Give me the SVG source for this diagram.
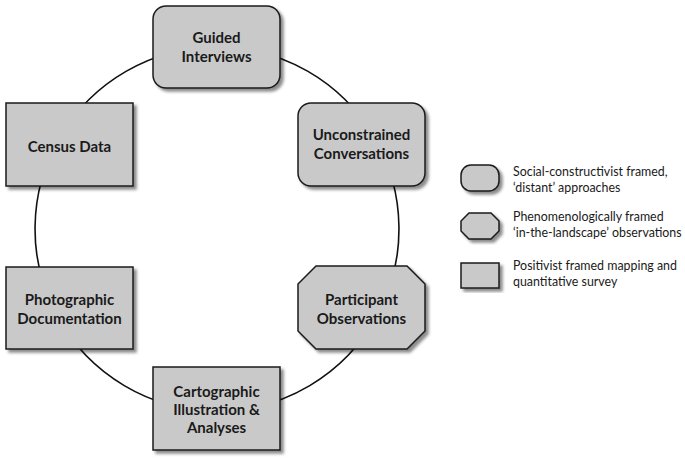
<svg xmlns="http://www.w3.org/2000/svg" width="685" height="458" viewBox="0 0 685 458">
  <defs>
    <filter id="shadow" x="-20%" y="-20%" width="140%" height="140%">
      <feDropShadow dx="3" dy="3" stdDeviation="1.8" flood-color="#000" flood-opacity="0.45"/>
    </filter>
  </defs>
  <style>
    .shape { fill: #c9c9c9; stroke: #1a1a1a; stroke-width: 1.5; filter: url(#shadow); }
    .label { font-family: Lato, "Liberation Sans", sans-serif; font-weight: bold; font-size: 15px; fill: #1a1a1a; text-anchor: middle; }
    .legend { font-family: Lato, "Liberation Sans", sans-serif; font-size: 12.4px; fill: #1a1a1a; }
    .conn { fill: none; stroke: #111; stroke-width: 1.6; }
  </style>
  <rect width="685" height="458" fill="#ffffff"/>

  <g id="connectors">
    <path class="conn" d="M217 47 A182 182 0 0 1 374.1 137.2"/>
    <path class="conn" d="M374.1 137.2 A182 182 0 0 1 376.6 316.4"/>
    <path class="conn" d="M376.6 316.4 A182 182 0 0 1 217 411"/>
    <path class="conn" d="M217 411 A182 182 0 0 1 57.4 316.4"/>
    <path class="conn" d="M57.4 316.4 A182 182 0 0 1 59.9 137.2"/>
    <path class="conn" d="M59.9 137.2 A182 182 0 0 1 217 47"/>
  </g>

  <g id="guided-interviews">
    <rect class="shape" x="153" y="6" width="127" height="82" rx="13"/>
    <text class="label" x="216.5" y="43">Guided</text>
    <text class="label" x="216.5" y="62">Interviews</text>
  </g>

  <g id="unconstrained-conversations">
    <rect class="shape" x="298" y="103" width="127" height="83" rx="13"/>
    <text class="label" x="361.5" y="140">Unconstrained</text>
    <text class="label" x="361.5" y="159">Conversations</text>
  </g>

  <g id="participant-observations">
    <polygon class="shape" points="316,266 407,266 425,284 425,331 407,349 316,349 298,331 298,284"/>
    <text class="label" x="361.5" y="305">Participant</text>
    <text class="label" x="361.5" y="324">Observations</text>
  </g>

  <g id="cartographic-illustration">
    <rect class="shape" x="153" y="367" width="127" height="83"/>
    <text class="label" x="216.5" y="397">Cartographic</text>
    <text class="label" x="216.5" y="415">Illustration &amp;</text>
    <text class="label" x="216.5" y="433">Analyses</text>
  </g>

  <g id="photographic-documentation">
    <rect class="shape" x="6" y="267" width="127" height="82"/>
    <text class="label" x="69.5" y="305">Photographic</text>
    <text class="label" x="69.5" y="324">Documentation</text>
  </g>

  <g id="census-data">
    <rect class="shape" x="6" y="103" width="127" height="83"/>
    <text class="label" x="69.5" y="152">Census Data</text>
  </g>

  <g id="legend-social">
    <rect class="shape" x="461" y="165" width="38" height="26" rx="10"/>
    <text class="legend" x="513" y="176">Social-constructivist framed,</text>
    <text class="legend" x="513" y="192">‘distant’ approaches</text>
  </g>

  <g id="legend-phenomenological">
    <polygon class="shape" points="469,213 491,213 499,221 499,231 491,239 469,239 461,231 461,221"/>
    <text class="legend" x="513" y="221">Phenomenologically framed</text>
    <text class="legend" x="513" y="237">‘in-the-landscape’ observations</text>
  </g>

  <g id="legend-positivist">
    <rect class="shape" x="461" y="263" width="38" height="25"/>
    <text class="legend" x="513" y="270">Positivist framed mapping and</text>
    <text class="legend" x="513" y="286">quantitative survey</text>
  </g>
</svg>
